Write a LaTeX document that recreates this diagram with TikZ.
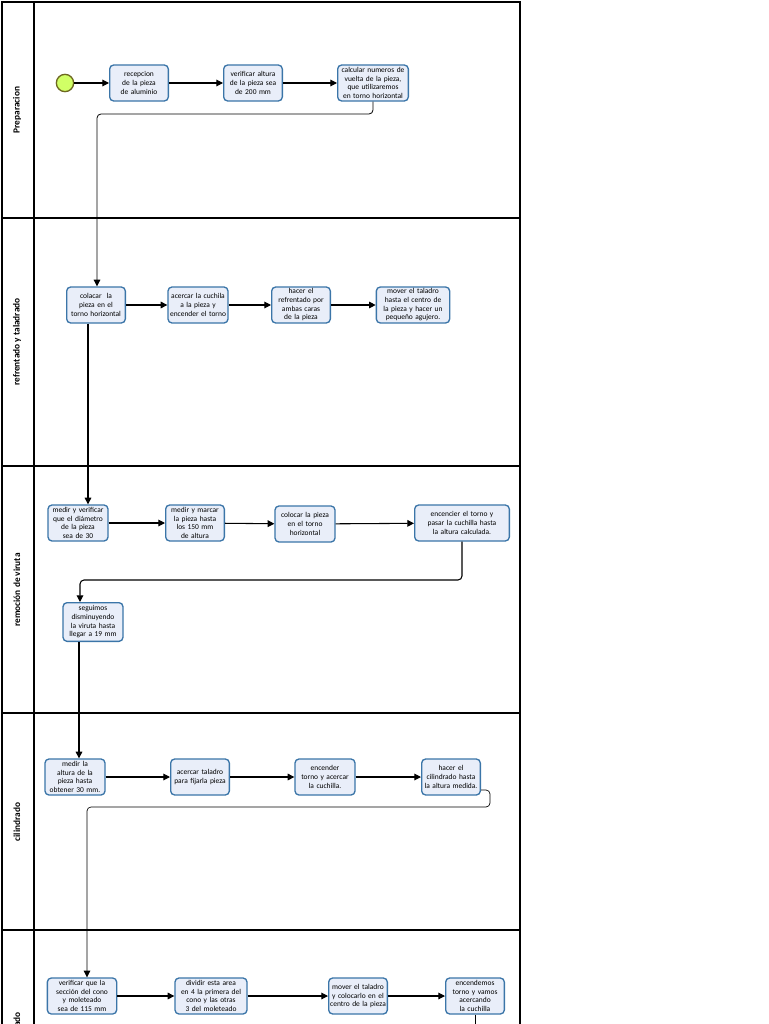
\documentclass[tikz,border=0pt]{standalone}
\usepackage{fontspec}
\setmainfont{Carlito}
\usetikzlibrary{arrows.meta}
\tikzset{
 box/.style={draw=boxline,fill=boxfill,line width=1pt,rounded corners=3pt,align=center,inner sep=1pt,font=\fontsize{5.6}{6.5}\selectfont,minimum height=27pt},
 flow/.style={-{Triangle[length=5pt,width=5pt]},line width=0.8pt},
 lanelbl/.style={rotate=90,font=\bfseries\fontsize{7}{8}\selectfont}
}
\definecolor{boxline}{HTML}{3B75A8}
\definecolor{boxfill}{HTML}{E9EEF9}
\begin{document}
\begin{tikzpicture}[x=0.75pt,y=-0.75pt]
\hyphenpenalty=10000
\useasboundingbox (0,0) rectangle (768,1024);
\clip (0,0) rectangle (768,1024);
% lanes
\draw[line width=1pt] (2,2) rectangle (520,1040);
\draw[line width=1pt] (34,2) -- (34,1040);
\foreach \y in {218,466,713,930} \draw[line width=1.2pt] (2,\y) -- (520,\y);
\node[lanelbl] (l1) at (17,110) {Preparacion};
\node[lanelbl] (l2) at (17,342) {refrentado y taladrado};
\node[lanelbl] (l3) at (17,590) {remoción de viruta};
\node[lanelbl] (l4) at (17,822) {cilindrado};
\node[lanelbl] (l5) at (17,1033) {moleteado};
% lane 1
\node[circle,draw=olive!70!black,fill=green!30!yellow!60,line width=1pt,minimum size=13pt,inner sep=0] (s) at (65,83) {};
\node[box,text width=36pt,minimum width=44pt] (a1) at (139,83) {recepcion de la pieza de aluminio};
\node[box,text width=38pt,minimum width=44pt] (a2) at (253,83) {verificar altura de la pieza sea de 200 mm};
\node[box,text width=50pt,minimum width=53pt] (a3) at (373,83) {calcular numeros de vuelta de la pieza, que utilizaremos en torno horizontal};
% lane 2
\node[box,text width=40pt,minimum width=44pt] (b1) at (96,305) {colacar\ \ la pieza en el torno horizontal};
\node[box,text width=42pt,minimum width=45pt] (b2) at (198,305) {acercar la cuchila a la pieza y encender el torno};
\node[box,text width=40pt,minimum width=44pt] (b3) at (301,305) {hacer el refrentado por ambas caras de la pieza};
\node[box,text width=52pt,minimum width=55pt] (b4) at (413,305) {mover el taladro hasta el centro de la pieza y hacer un pequeño agujero.};
% lane 3
\node[box,text width=40pt,minimum width=45pt] (c1) at (78,523) {medir y verificar que el diámetro de la pieza sea de 30};
\node[box,text width=40pt,minimum width=44pt] (c2) at (195,523) {medir y marcar la pieza hasta los 150 mm de altura};
\node[box,text width=40pt,minimum width=45pt] (c3) at (305,524) {colocar la pieza en el torno horizontal};
\node[box,text width=68pt,minimum width=71pt] (c4) at (462,523) {encencier el torno y pasar la cuchilla hasta la altura calculada.};
\node[box,text width=40pt,minimum width=45pt,minimum height=29pt] (c5) at (93,622) {seguimos disminuyendo la viruta hasta llegar a 19 mm};
% lane 4
\node[box,text width=38pt,minimum width=45pt] (d1) at (75,777) {medir la altura de la pieza hasta obtener 30 mm.};
\node[box,text width=42pt,minimum width=44pt] (d2) at (200,777) {acercar taladro para fijarla pieza};
\node[box,text width=38pt,minimum width=45pt] (d3) at (325,777) {encender torno y acercar la cuchilla.};
\node[box,text width=40pt,minimum width=44pt] (d4) at (451,777) {hacer el cilindrado hasta la altura medida.};
% lane 5
\node[box,text width=48pt,minimum width=52pt] (e1) at (82,996) {verificar que la sección del cono y moleteado sea de 115 mm};
\node[box,text width=52pt,minimum width=54pt] (e2) at (211,996) {dividir esta area en 4 la primera del cono y las otras 3 del moleteado};
\node[box,text width=42pt,minimum width=44pt] (e3) at (358,996) {mover el taladro y colocarlo en el centro de la pieza};
\node[box,text width=40pt,minimum width=44pt] (e4) at (475,996) {encendemos torno y vamos acercando la cuchilla};
\coordinate (eend) at (475,1030);
% connectors
\draw[flow] (s) -- (a1);
\draw[flow] (a1) -- (a2);
\draw[flow] (a2) -- (a3);
\draw[flow,rounded corners=3pt,line width=0.6pt] (a3.south) |- (97,114) -- (b1.north -| 97,0);
\draw[flow] (b1) -- (b2);
\draw[flow] (b2) -- (b3);
\draw[flow] (b3) -- (b4);
\draw[flow] (b1.south -| 88,0) -- (c1.north -| 88,0);
\draw[flow] (c1) -- (c2);
\draw[flow] (c2) -- (c3);
\draw[flow] (c3) -- (c4);
\draw[flow,rounded corners=3pt] (c4.south) |- (80,580) -- (c5.north -| 80,0);
\draw[flow] (c5.south -| 79,0) -- (d1.north -| 79,0);
\draw[flow] (d1) -- (d2);
\draw[flow] (d2) -- (d3);
\draw[flow] (d3) -- (d4);
\draw[flow,rounded corners=3pt,line width=0.5pt] (d4.east |- 0,790) -- (490,790) |- (87,807) -- (e1.north -| 87,0);
\draw[flow] (e1) -- (e2);
\draw[flow] (e2) -- (e3);
\draw[flow] (e3) -- (e4);
\draw[line width=0.5pt] (e4.south) -- (eend);
\end{tikzpicture}
\end{document}
